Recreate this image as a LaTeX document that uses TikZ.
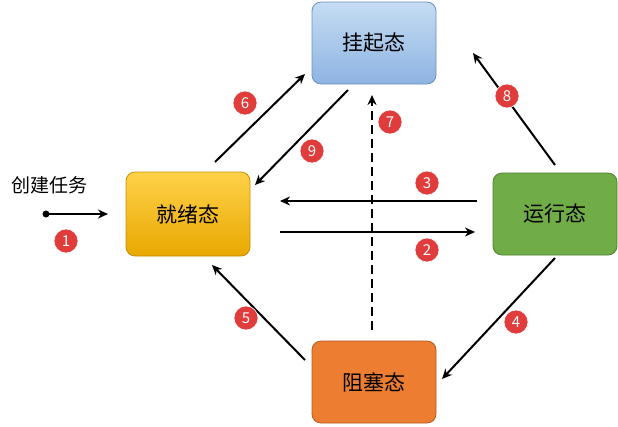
\documentclass[tikz,border=0pt]{standalone}
\usepackage{fontspec}
\setmainfont{Noto Sans CJK SC}
\usetikzlibrary{arrows.meta}
\definecolor{bt}{HTML}{C5DCF2}\definecolor{bb}{HTML}{8EB4E3}\definecolor{bd}{HTML}{6A90C0}
\definecolor{yt}{HTML}{FFD24A}\definecolor{yb}{HTML}{E8A800}\definecolor{yd}{HTML}{C89000}
\definecolor{gf}{HTML}{70AD47}\definecolor{gd}{HTML}{507E32}
\definecolor{of}{HTML}{ED7D31}\definecolor{od}{HTML}{B65A1E}
\definecolor{rc}{HTML}{E03C3C}
\tikzset{
 state/.style={rounded corners=9pt,minimum width=124pt,minimum height=82pt,font=\fontsize{21}{21}\selectfont,draw=#1,line width=0.8pt},
 arr/.style={-{Stealth[length=10pt,width=9pt]},line width=2pt},
 num/.style={circle,fill=rc,draw=white,line width=0.6pt,inner sep=0pt,minimum size=24pt,text=white,font=\fontsize{15}{15}\selectfont}
}
\begin{document}
\begin{tikzpicture}[x=1pt,y=-1pt]
\useasboundingbox (0,0) rectangle (618,426);
\node[state=bd,top color=bt,bottom color=bb] (s) at (374,43) {挂起态};
\node[state=yd,top color=yt,bottom color=yb,minimum height=84pt] (r) at (188,214) {就绪态};
\node[state=gd,fill=gf] (u) at (555,214) {运行态};
\node[state=od,fill=of] (b) at (374,382) {阻塞态};
\node[font=\fontsize{19}{19}\selectfont] (c) at (50,185) {创建任务};
\coordinate (d) at (46,214);
\fill (d) circle (3.5pt);
\coordinate (de) at (108,214);
\draw[arr] (d) -- (de);
\draw[arr] (215,162) -- (305,74);
\draw[arr] (348,90) -- (255,185);
\draw[arr] (477,201) -- (280,201);
\draw[arr] (280,232) -- (475,232);
\draw[arr,dash pattern=on 9pt off 5pt] (372,330) -- (372,95);
\draw[arr] (555,165) -- (473,53);
\draw[arr] (555,258) -- (442,379);
\draw[arr] (305,360) -- (212,265);
\node[num] (n1) at (66,241) {1};
\node[num] (n2) at (427,250) {2};
\node[num] (n3) at (427,183) {3};
\node[num] (n4) at (516,322) {4};
\node[num] (n5) at (246,318) {5};
\node[num] (n6) at (245,103) {6};
\node[num] (n7) at (390,122) {7};
\node[num] (n8) at (507,96) {8};
\node[num] (n9) at (312,151) {9};
\end{tikzpicture}
\end{document}
